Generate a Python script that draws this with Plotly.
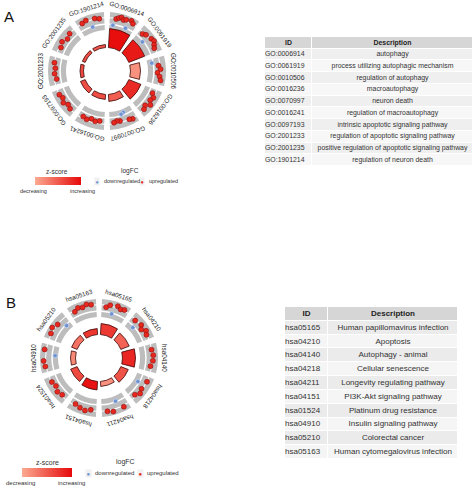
import math
import plotly.graph_objects as go

W, H = 474, 488

# ---- panel A : GO terms (clockwise from 12 o'clock) ----
go_ids = ["GO:0006914", "GO:0061919", "GO:0010506", "GO:0016236", "GO:0070997",
          "GO:0016241", "GO:0097193", "GO:2001233", "GO:2001235", "GO:1901214"]
go_desc = ["autophagy", "process utilizing autophagic mechanism", "regulation of autophagy",
           "macroautophagy", "neuron death", "regulation of macroautophagy",
           "intrinsic apoptotic signaling pathway", "regulation of apoptotic signaling pathway",
           "positive regulation of apoptotic signaling pathway", "regulation of neuron death"]
go_logp = [7.6, 6.8, 4.0, 5.2, 2.8, 2.0, 2.0, 1.4, 1.2, 1.2]
go_zscore = [3.9, 3.6, 0.6, 3.2, 1.9, 2.3, 2.3, 2.4, 2.3, 2.1]
go_lfc = [
    [-0.6, 1.2, 1.6, 1.9, 1.4, 1.7, -0.5, 2.0, 1.5],
    [0.8, 1.3, -0.7, 1.7, 2.0, 1.5, 1.1],
    [-0.8, 0.9, 1.4, 0.6, 1.2, 1.6],
    [0.6, 1.4, 1.0, 1.8, 0.8, 1.3],
    [1.6, 1.3, -1.1, -0.8, 0.9, 0.7, 1.0],
    [0.6, 0.9, 0.5, 1.1, 0.8],
    [1.2, 0.8, 1.5, 0.9, 1.3],
    [0.7, 1.1, 0.9, 1.3],
    [0.9, 1.4, 0.7, 1.2],
    [1.4, 1.7, -0.6, 1.5, 1.2],
]

# ---- panel B : KEGG pathways ----
kegg_ids = ["hsa05165", "hsa04210", "hsa04140", "hsa04218", "hsa04211",
            "hsa04151", "hsa01524", "hsa04910", "hsa05210", "hsa05163"]
kegg_desc = ["Human papillomavirus infection", "Apoptosis", "Autophagy - animal",
             "Cellular senescence", "Longevity regulating pathway", "PI3K-Akt signaling pathway",
             "Platinum drug resistance", "Insulin signaling pathway", "Colorectal cancer",
             "Human cytomegalovirus infection"]
kegg_logp = [4.4, 3.6, 5.2, 3.2, 2.0, 3.4, 2.8, 2.0, 2.4, 2.4]
kegg_zscore = [2.8, 1.8, 3.3, 2.2, 0.6, 3.8, 2.4, 0.8, 1.4, 2.9]
kegg_lfc = [
    [0.8, 1.5, -0.7, 1.8, 1.3, 1.6],
    [1.0, -0.8, 1.4, 0.7, 1.6, 1.2],
    [1.3, 1.6, 1.5, 1.0],
    [1.4, -0.8, 1.1, 1.6, 0.8],
    [1.7, -0.6, 1.9, 1.5],
    [1.1, 1.6, 1.3, 0.9],
    [1.0, 1.4, 0.8, 1.2],
    [1.6, 1.9, -1.2, 1.8],
    [1.5, 2.0, 1.3, -0.7],
    [1.0, 1.6, 1.3, 1.8, 1.5],
]

table_header = ["<b>ID</b>", "<b>Description</b>"]

# geometry (radial unit = 1 px)
R_PX = 60
BAR_BASE = 23.5
BAR_SCALE = 2.5
TILE_IN, TILE_OUT = 41, 59.5
LFC_MIN, LFC_MAX = -2, 3
LABEL_R = 66
FONT = "Liberation Sans, Arial, sans-serif"
ZSC_SCALE = [[0, "#FBAA92"], [1, "#E60A0A"]]


def lfc_to_r(v):
    return TILE_IN + (v - LFC_MIN) / (LFC_MAX - LFC_MIN) * (TILE_OUT - TILE_IN)


def add_circle(fig, ids, logp, zscore, lfcs, subplot, cx, cy, cb):
    n = len(ids)
    sector = 360 / n
    centers = [(i + 0.5) * sector for i in range(n)]

    # grey lfc tiles (three bands)
    band = (TILE_OUT - TILE_IN) / 3
    for k in range(3):
        fig.add_trace(go.Barpolar(
            r=[band - 1.0] * n, base=TILE_IN + k * band + (0.5 if k else 0), theta=centers,
            width=sector - 6, marker=dict(color="#BDBDBD", line=dict(width=0)),
            subplot=subplot, showlegend=False, hoverinfo="skip"))

    # inner bars
    fig.add_trace(go.Barpolar(
        r=[v * BAR_SCALE for v in logp], base=BAR_BASE, theta=centers, width=sector - 7,
        marker=dict(color=zscore, colorscale=ZSC_SCALE, cmin=0, cmax=4,
                    line=dict(color="#3A0A0A", width=0.8),
                    showscale=True,
                    colorbar=dict(orientation="h", x=cb[0] / W, y=1 - cb[1] / H,
                                  xanchor="center", yanchor="top", len=cb[2], lenmode="pixels",
                                  thickness=cb[3], outlinewidth=0, showticklabels=False,
                                  ticks="", xpad=0, ypad=0)),
        subplot=subplot, showlegend=False))

    # genes
    up_r, up_t, dn_r, dn_t = [], [], [], []
    pad = 6
    for i, vals in enumerate(lfcs):
        step = (sector - 2 * pad) / len(vals)
        for j, v in enumerate(vals):
            t = i * sector + pad + (j + 0.5) * step
            if v < 0:
                dn_r.append(lfc_to_r(v))
                dn_t.append(t)
            else:
                up_r.append(lfc_to_r(v))
                up_t.append(t)
    fig.add_trace(go.Scatterpolar(
        r=up_r, theta=up_t, mode="markers", subplot=subplot, showlegend=False,
        marker=dict(size=5, color="#E8281E", line=dict(color="#8B1010", width=0.6))))
    fig.add_trace(go.Scatterpolar(
        r=dn_r, theta=dn_t, mode="markers", subplot=subplot, showlegend=False,
        marker=dict(size=4.5, color="#6F93D1", line=dict(color="#C9D6EE", width=0.8))))

    # rotated term labels
    for name, t in zip(ids, centers):
        a = math.radians(t)
        fig.add_annotation(
            x=(cx + LABEL_R * math.sin(a)) / W, y=1 - (cy - LABEL_R * math.cos(a)) / H,
            xref="paper", yref="paper", text=name, showarrow=False,
            xanchor="center", yanchor="middle",
            textangle=t if t <= 180 else t - 360,
            font=dict(size=6.3, color="#222", family=FONT))


def polar_layout(cx, cy):
    return dict(
        domain=dict(x=[(cx - R_PX) / W, (cx + R_PX) / W],
                    y=[1 - (cy + R_PX) / H, 1 - (cy - R_PX) / H]),
        bgcolor="rgba(0,0,0,0)",
        barmode="overlay",
        radialaxis=dict(range=[0, R_PX], visible=False),
        angularaxis=dict(rotation=90, direction="clockwise", visible=False),
    )


def add_legend(fig, zx, zy, lx, dn_x, up_x, dot_y, dec_y, dec_x, inc_x, fs):
    def txt(s, x, y, size, anchor="center", color="#333"):
        fig.add_annotation(x=x / W, y=1 - y / H, xref="paper", yref="paper", text=s,
                           showarrow=False, xanchor=anchor, yanchor="middle",
                           font=dict(size=size, color=color, family=FONT))
    txt("z-score", zx, zy, fs)
    txt("decreasing", dec_x, dec_y, fs - 1)
    txt("increasing", inc_x, dec_y, fs - 1)
    txt("logFC", lx, zy, fs)
    for x, col in ((dn_x, "#6F93D1"), (up_x, "#E8281E")):
        fig.add_annotation(x=x / W, y=1 - dot_y / H, xref="paper", yref="paper", text="●",
                           showarrow=False, bgcolor="#F0F0F0", xanchor="center",
                           yanchor="middle", borderpad=0.5,
                           font=dict(size=fs - 1, color=col, family=FONT))
    txt("downregulated", dn_x + 5, dot_y, fs - 1, "left")
    txt("upregulated", up_x + 5, dot_y, fs - 1, "left")


def add_table(fig, ids, desc, xa, ya, col_w, fs, fills):
    # shading grid: header row + alternating body rows, white gaps between cells
    nrow = len(ids) + 1
    shade = [[0, 0]] + [[1 + i % 2] * 2 for i in range(len(ids))]
    edges_x = [0, col_w[0], col_w[0] + col_w[1]]
    fig.add_trace(go.Heatmap(
        z=shade, x=edges_x, y=[r - 0.5 for r in range(nrow + 1)], xgap=1, ygap=1,
        zmin=0, zmax=2, showscale=False, hoverinfo="skip",
        colorscale=[[0, "#D6D6D6"], [0.5, fills[0]], [1, fills[1]]],
        xaxis=xa, yaxis=ya))
    rows = list(range(1, nrow))
    fig.add_trace(go.Scatter(
        x=[col_w[0] / 2, col_w[0] + col_w[1] / 2], y=[0, 0], mode="text", text=table_header,
        textposition="middle center", textfont=dict(size=fs, color="#222", family=FONT),
        xaxis=xa, yaxis=ya, showlegend=False, hoverinfo="skip"))
    fig.add_trace(go.Scatter(
        x=[0] * len(ids), y=rows, mode="text", text=ids, textposition="middle right",
        textfont=dict(size=fs, color="#333", family=FONT),
        xaxis=xa, yaxis=ya, showlegend=False, hoverinfo="skip"))
    fig.add_trace(go.Scatter(
        x=[col_w[0] + col_w[1] / 2] * len(desc), y=rows, mode="text", text=desc,
        textposition="middle center", textfont=dict(size=fs, color="#333", family=FONT),
        xaxis=xa, yaxis=ya, showlegend=False, hoverinfo="skip"))
    return nrow


def table_axes(x0, x1, y0, y1, total_w, nrow):
    ax_x = dict(domain=[x0 / W, x1 / W], range=[0, total_w], visible=False, fixedrange=True)
    ax_y = dict(domain=[1 - y1 / H, 1 - y0 / H], range=[nrow - 0.5, -0.5], visible=False,
                fixedrange=True)
    return ax_x, ax_y


fig = go.Figure()
add_circle(fig, go_ids, go_logp, go_zscore, go_lfc, "polar", 107, 71, (58, 177, 46, 8))
add_circle(fig, kegg_ids, kegg_logp, kegg_zscore, kegg_lfc, "polar2", 99, 358, (47, 468, 50, 9))
add_legend(fig, 57, 171, 130, 97, 142, 181, 191, 33, 82, 6.5)
add_legend(fig, 47, 462, 125, 88, 140, 473, 483, 20, 71, 7)

na = add_table(fig, go_ids, go_desc, "x", "y", [47, 161], 6.9, ["#EFEFEF", "#F7F7F7"])
nb = add_table(fig, kegg_ids, kegg_desc, "x2", "y2", [43, 130], 8, ["#EBEBEB", "#F5F5F5"])
xa, ya = table_axes(265, 473, 37, 166, 208, na)
xb, yb = table_axes(285, 458, 307, 459, 173, nb)

fig.add_annotation(x=9 / W, y=1 - 16 / H, xref="paper", yref="paper", text="A", showarrow=False,
                   xanchor="center", yanchor="middle",
                   font=dict(size=15, color="#111", family=FONT))
fig.add_annotation(x=11 / W, y=1 - 302 / H, xref="paper", yref="paper", text="B", showarrow=False,
                   xanchor="center", yanchor="middle",
                   font=dict(size=15, color="#111", family=FONT))

fig.update_layout(
    width=W, height=H, margin=dict(l=0, r=0, t=0, b=0, autoexpand=False),
    paper_bgcolor="white", plot_bgcolor="rgba(0,0,0,0)",
    polar=polar_layout(107, 71), polar2=polar_layout(99, 358),
    xaxis=xa, yaxis=ya, xaxis2=xb, yaxis2=yb,
    showlegend=False,
)

# the page body has a default 8px margin; drop it so the figure sits at the window corner
fig.write_html("out.html", config={"displayModeBar": False},
               post_script="document.body.style.margin='0';")
